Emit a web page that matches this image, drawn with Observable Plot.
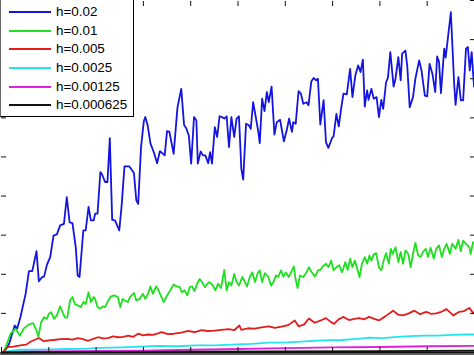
<!DOCTYPE html>
<html>
<head>
<meta charset="utf-8">
<script src="https://cdn.jsdelivr.net/npm/d3@7"></script>
<script src="https://cdn.jsdelivr.net/npm/@observablehq/plot@0.6"></script>
<style>
  body { margin: 0; background: #fff; }
  #wrap { position: relative; width: 474px; height: 355px; overflow: hidden; }
  #legend { position: absolute; left: 0; top: -2px; width: 132px; height: 117px; border: 1px solid #000; border-left-color: #666; background: #fff;
            font-family: "Liberation Sans", Arial, Helvetica, sans-serif; font-size: 13.4px; color: #000; }
  .sw { position: absolute; left: 8px; width: 42px; height: 0; }
  .lb { position: absolute; left: 55px; line-height: 16px; white-space: nowrap; }
</style>
</head>
<body>
<div id="wrap"><div id="legend"></div></div>
<script>
// ---- data ----
const labels = ["h=0.02", "h=0.01", "h=0.005", "h=0.0025", "h=0.00125", "h=0.000625"];
const colors = ["#1414e0", "#1ee01e", "#e41c1c", "#22e4f0", "#e020e0", "#111111"];
const xTicks = [0, 1, 2, 3, 4, 5, 6, 7, 8, 9, 10];
const yTicks = [0, 1, 2, 3, 4, 5, 6, 7, 8, 9];

const blueX = [0.05,0.16,0.28,0.33,0.40,0.51,0.58,0.65,0.74,0.79,0.86,0.90,0.96,1.03,1.10,1.17,1.24,1.32,1.38,1.44,1.50,1.57,1.61,1.65,1.73,1.78,1.84,1.89,1.95,1.98,2.03,2.09,2.12,2.19,2.24,2.29,2.34,2.40,2.49,2.54,2.60,2.70,2.80,2.85,2.89,2.95,3.01,3.04,3.09,3.15,3.22,3.29,3.35,3.45,3.50,3.55,3.64,3.72,3.80,3.86,3.91,3.96,4.01,4.07,4.12,4.15,4.21,4.26,4.31,4.37,4.41,4.45,4.51,4.56,4.61,4.66,4.71,4.76,4.81,4.86,4.92,4.97,5.02,5.07,5.11,5.17,5.23,5.27,5.32,5.37,5.43,5.46,5.51,5.56,5.61,5.65,5.71,5.77,5.82,5.89,5.97,6.03,6.08,6.14,6.17,6.22,6.28,6.33,6.38,6.45,6.49,6.55,6.60,6.65,6.69,6.74,6.81,6.86,6.91,6.99,7.02,7.08,7.13,7.18,7.23,7.30,7.37,7.42,7.48,7.54,7.59,7.64,7.68,7.73,7.76,7.82,7.87,7.93,7.98,8.03,8.07,8.13,8.17,8.22,8.29,8.33,8.39,8.44,8.47,8.54,8.58,8.63,8.70,8.75,8.83,8.88,8.95,9.00,9.05,9.11,9.17,9.21,9.25,9.29,9.36,9.39,9.50,9.57,9.60,9.66,9.71,9.76,9.82,9.86,9.90,9.94,9.99,10.0];
const blueY = [0.01,0.22,0.69,0.61,0.90,1.50,2.08,2.08,2.59,1.82,1.93,1.94,2.24,2.44,2.99,3.02,3.25,3.29,3.97,3.33,3.31,2.69,1.97,1.93,3.12,3.12,3.72,3.38,3.38,3.55,3.55,4.61,4.57,4.36,4.36,5.48,3.39,3.38,3.12,3.76,4.76,4.76,4.59,3.89,3.80,5.25,5.92,6.02,5.81,5.34,5.12,4.84,5.15,5.04,5.66,5.64,5.08,6.26,6.74,5.82,5.72,5.55,4.83,6.02,5.93,4.83,5.14,5.04,5.04,4.84,5.12,4.83,5.76,5.51,6.04,6.02,5.98,6.04,5.25,6.02,5.51,5.98,6.04,4.70,4.42,5.85,5.81,5.72,6.40,6.06,5.64,5.35,6.49,6.17,6.66,6.40,6.80,5.57,5.89,5.95,5.40,5.68,5.98,5.64,5.89,5.85,6.68,6.62,6.36,6.40,6.32,6.93,7.02,6.96,7.00,5.83,6.45,5.38,5.23,5.49,5.52,6.10,5.78,6.23,6.62,6.60,7.25,6.53,7.08,7.34,7.17,7.49,6.29,6.70,6.46,6.74,6.49,6.53,6.02,6.46,6.23,6.91,7.02,7.68,6.80,7.00,7.55,6.96,7.64,7.72,7.30,6.27,6.53,7.00,7.47,7.21,6.57,6.55,7.38,7.13,6.66,7.57,7.43,6.63,7.77,7.54,8.70,6.87,6.33,7.04,6.45,6.45,7.77,7.81,7.21,7.68,6.80,6.96];

const greenX = [0.05,0.19,0.30,0.39,0.47,0.58,0.67,0.74,0.78,0.84,0.90,0.96,1.00,1.05,1.11,1.17,1.24,1.29,1.34,1.39,1.45,1.50,1.55,1.62,1.68,1.73,1.78,1.84,1.89,1.95,1.98,2.03,2.09,2.14,2.19,2.24,2.31,2.38,2.46,2.51,2.56,2.61,2.67,2.72,2.80,2.85,2.92,2.99,3.04,3.09,3.15,3.20,3.27,3.32,3.38,3.43,3.50,3.57,3.64,3.70,3.77,3.81,3.87,3.93,3.98,4.03,4.08,4.14,4.19,4.24,4.30,4.35,4.40,4.47,4.52,4.58,4.64,4.71,4.76,4.81,4.86,4.92,4.97,5.02,5.09,5.13,5.19,5.25,5.30,5.36,5.41,5.46,5.51,5.57,5.64,5.70,5.75,5.80,5.85,5.91,5.96,6.01,6.07,6.12,6.18,6.22,6.26,6.31,6.38,6.45,6.50,6.56,6.63,6.69,6.74,6.79,6.86,6.91,6.97,7.02,7.08,7.14,7.20,7.27,7.32,7.37,7.42,7.47,7.52,7.57,7.62,7.68,7.73,7.78,7.82,7.87,7.92,7.98,8.03,8.08,8.13,8.19,8.23,8.27,8.33,8.39,8.44,8.49,8.54,8.60,8.65,8.70,8.75,8.81,8.86,8.91,8.97,9.02,9.07,9.14,9.19,9.25,9.31,9.36,9.41,9.48,9.53,9.60,9.66,9.71,9.76,9.82,9.89,9.92,9.97,10.0];
const greenY = [0.01,0.48,0.61,0.43,0.61,0.72,0.75,0.56,0.41,0.78,0.90,0.86,0.99,1.03,0.86,0.95,1.18,1.03,0.90,0.89,1.33,1.42,1.24,1.20,1.16,1.29,1.24,1.54,1.29,1.42,1.37,1.16,1.12,1.18,1.16,1.29,1.43,1.46,1.42,1.16,1.37,1.33,1.29,1.42,1.52,1.33,1.37,1.50,1.37,1.48,1.69,1.50,1.69,1.59,1.42,1.29,1.46,1.59,1.74,1.69,1.67,1.54,1.59,1.46,1.67,1.69,1.57,1.77,1.88,1.80,1.67,1.76,1.80,1.71,1.59,1.76,1.65,2.11,1.59,1.80,1.71,2.01,1.80,1.71,1.93,1.84,1.69,1.93,2.05,1.80,2.01,2.10,1.80,2.03,1.93,1.71,1.80,1.97,1.93,2.10,1.94,2.05,1.93,2.05,2.20,1.86,1.65,1.97,1.93,2.05,2.18,2.05,1.94,2.10,2.11,2.20,2.27,2.18,2.35,2.10,2.18,2.23,2.05,2.31,2.11,2.40,2.18,2.35,2.14,1.93,2.27,2.44,2.27,2.48,2.35,2.51,2.54,2.18,2.10,2.35,2.54,2.27,2.65,2.52,2.69,2.31,2.57,2.27,2.61,2.52,2.18,2.52,2.80,2.48,2.44,2.57,2.65,2.44,2.68,2.40,2.65,2.74,2.44,2.65,2.78,2.52,2.78,2.65,2.88,2.59,2.86,2.78,2.69,2.52,2.82,2.78];

const redX = [0.04,0.13,0.25,0.40,0.52,0.62,0.79,0.89,1.00,1.10,1.25,1.40,1.50,1.61,1.72,1.83,1.94,2.04,2.15,2.25,2.36,2.46,2.57,2.68,2.78,2.89,3.00,3.10,3.20,3.31,3.38,3.52,3.65,3.80,3.95,4.09,4.23,4.36,4.50,4.65,4.80,4.92,5.03,5.07,5.21,5.35,5.50,5.65,5.78,5.92,6.06,6.20,6.28,6.40,6.50,6.62,6.77,6.86,6.95,7.03,7.12,7.22,7.35,7.46,7.56,7.67,7.77,7.88,7.98,8.12,8.28,8.38,8.49,8.61,8.73,8.85,8.98,9.08,9.19,9.30,9.41,9.55,9.68,9.78,9.89,9.98,10.0];
const redY = [0.02,0.14,0.15,0.18,0.20,0.28,0.37,0.29,0.31,0.32,0.34,0.35,0.33,0.37,0.34,0.30,0.35,0.39,0.36,0.37,0.41,0.39,0.40,0.43,0.40,0.48,0.44,0.46,0.45,0.49,0.52,0.47,0.48,0.51,0.55,0.52,0.57,0.55,0.56,0.58,0.60,0.57,0.69,0.58,0.62,0.61,0.64,0.67,0.63,0.66,0.70,0.82,0.67,0.72,0.87,0.76,0.83,0.88,0.79,0.73,0.84,0.91,0.83,0.86,0.88,0.85,0.91,0.86,0.82,0.93,1.07,0.97,0.95,1.00,1.07,0.98,1.04,0.99,1.00,1.04,1.11,0.95,1.04,1.06,1.14,1.00,1.02];

const cyanX = [0.02,0.19,0.40,0.72,1.04,1.40,1.78,2.10,2.53,2.95,3.31,3.69,4.11,4.50,4.86,5.28,5.65,6.02,6.34,6.77,7.20,7.52,7.77,8.05,8.37,8.64,8.92,9.21,9.53,9.79,10.0];
const cyanY = [0.01,0.04,0.07,0.07,0.08,0.09,0.10,0.12,0.13,0.15,0.17,0.16,0.18,0.18,0.20,0.22,0.25,0.26,0.28,0.31,0.32,0.35,0.38,0.37,0.40,0.42,0.43,0.43,0.45,0.46,0.46];

const magentaX = [0, 0.5, 1, 1.5, 2, 3, 4, 5, 6, 7, 8, 9, 10];
const magentaY = [0, 0.02, 0.03, 0.035, 0.04, 0.05, 0.07, 0.09, 0.11, 0.13, 0.14, 0.16, 0.17];

const blackX = [0, 2, 4, 6, 8, 10];
const blackY = [0, 0.01, 0.02, 0.03, 0.035, 0.045];

// ---- build ----
const seriesX = [blueX, greenX, redX, cyanX, magentaX, blackX];
const seriesY = [blueY, greenY, redY, cyanY, magentaY, blackY];
const rows = [];
labels.forEach((h, i) => seriesX[i].forEach((x, j) => rows.push({h, x, y: seriesY[i][j]})));

const chart = Plot.plot({
  width: 474,
  height: 355,
  marginLeft: 1,
  marginRight: 0,
  marginTop: 0,
  marginBottom: 3,
  x: {domain: [0, 10]},
  y: {domain: [0, 9]},
  color: {domain: labels, range: colors},
  style: {background: "linear-gradient(to top, #5a5a5a 0px, #8c8c8c 3px, #ffffff 3px)"},
  marks: [
    Plot.line(rows, {x: "x", y: "y", z: "h", stroke: "h", strokeWidth: 1.8, strokeLinejoin: "round"}),
    Plot.axisX({anchor: "bottom", ticks: xTicks, tickSize: -5, tickFormat: () => "", label: null, stroke: "#111"}),
    Plot.axisX({anchor: "top", ticks: xTicks, tickSize: -5, tickFormat: () => "", label: null, stroke: "#111"}),
    Plot.axisY({anchor: "left", ticks: yTicks, tickSize: -5, tickFormat: () => "", label: null, stroke: "#111"}),
    Plot.axisY({anchor: "right", ticks: yTicks, tickSize: -5, tickFormat: () => "", label: null, stroke: "#111"}),
    Plot.ruleY([0], {stroke: "#111", strokeWidth: 1.5})
  ]
});
const wrap = document.getElementById("wrap");
wrap.insertBefore(chart, wrap.firstChild);

// legend overlay
const legend = document.getElementById("legend");
labels.forEach((h, i) => {
  const cy = 13.3 + i * 18.55;
  const sw = document.createElement("div");
  sw.className = "sw";
  sw.style.top = (cy - 1) + "px";
  sw.style.borderTop = "2px solid " + colors[i];
  legend.appendChild(sw);
  const lb = document.createElement("div");
  lb.className = "lb";
  lb.style.top = (cy - 8) + "px";
  lb.textContent = h;
  legend.appendChild(lb);
});
</script>
</body>
</html>
